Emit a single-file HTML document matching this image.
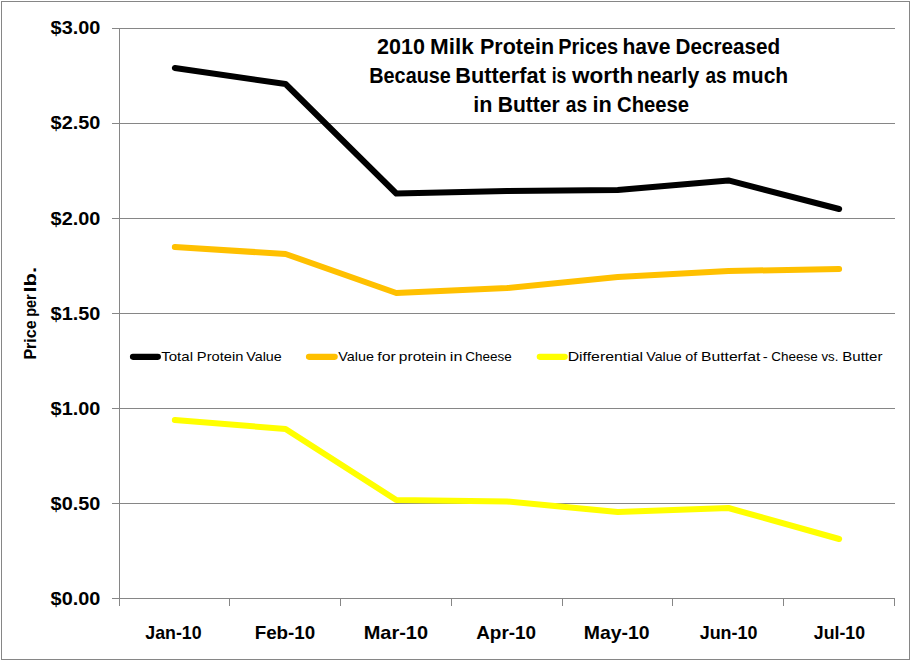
<!DOCTYPE html>
<html>
<head>
<meta charset="utf-8">
<title>2010 Milk Protein Prices</title>
<style>
html,body{margin:0;padding:0;background:#ffffff;}
body{width:912px;height:662px;overflow:hidden;font-family:"Liberation Sans",sans-serif;}
svg{display:block;}
text{font-family:"Liberation Sans",sans-serif;fill:#000;}
.b{font-weight:bold;}
.g{stroke:#868686;stroke-width:1;shape-rendering:crispEdges;fill:none;}
</style>
</head>
<body>
<svg width="912" height="662" viewBox="0 0 912 662">
<rect x="0" y="0" width="912" height="662" fill="#ffffff"/>
<rect class="g" x="1.5" y="1.5" width="908" height="658"/>
<g class="g">
<line x1="112" x2="895" y1="28.5" y2="28.5"/>
<line x1="112" x2="895" y1="123.5" y2="123.5"/>
<line x1="112" x2="895" y1="218.5" y2="218.5"/>
<line x1="112" x2="895" y1="313.5" y2="313.5"/>
<line x1="112" x2="895" y1="408.5" y2="408.5"/>
<line x1="112" x2="895" y1="503.5" y2="503.5"/>
<line x1="112" x2="895" y1="598.5" y2="598.5"/>
<line x1="119.5" x2="119.5" y1="28" y2="606"/>
<line x1="229.5" x2="229.5" y1="598" y2="606"/>
<line x1="340.5" x2="340.5" y1="598" y2="606"/>
<line x1="451.5" x2="451.5" y1="598" y2="606"/>
<line x1="562.5" x2="562.5" y1="598" y2="606"/>
<line x1="672.5" x2="672.5" y1="598" y2="606"/>
<line x1="783.5" x2="783.5" y1="598" y2="606"/>
<line x1="894.5" x2="894.5" y1="598" y2="606"/>
</g>
<g fill="none" stroke-width="6" stroke-linecap="round" stroke-linejoin="round">
<polyline stroke="#ffff00" points="174.86,420 285.57,429 396.29,500 507.0,501.5 617.71,512 728.43,508 839.14,539"/>
<polyline stroke="#ffc000" points="174.86,247 285.57,254 396.29,293 507.0,288 617.71,277 728.43,271 839.14,269"/>
<polyline stroke="#000000" points="174.86,68 285.57,84 396.29,193.5 507.0,191 617.71,190 728.43,180.4 839.14,209"/>
</g>
<g fill="none" stroke-width="6.1" stroke-linecap="round">
<line stroke="#000000" x1="132.95" x2="157.9" y1="356.85" y2="356.85"/>
<line stroke="#ffc000" x1="308.95" x2="334.75" y1="356.85" y2="356.85"/>
<line stroke="#ffff00" x1="539.75" x2="564.75" y1="356.85" y2="356.85"/>
</g>
<text class="b" font-size="16.6" transform="translate(36.2,359) rotate(-90)"><tspan x="-0.60" textLength="39.20" lengthAdjust="spacingAndGlyphs">Price</tspan><tspan x="42.20" textLength="22.40" lengthAdjust="spacingAndGlyphs">per</tspan><tspan x="66.40" textLength="25.80" lengthAdjust="spacingAndGlyphs">lb.</tspan></text>
<text class="b" font-size="21.4" x="376.99" y="53.7" textLength="47.88" lengthAdjust="spacingAndGlyphs">2010</text>
<text class="b" font-size="21.4" x="429.91" y="53.7" textLength="43.74" lengthAdjust="spacingAndGlyphs">Milk</text>
<text class="b" font-size="21.4" x="479.94" y="53.7" textLength="74.12" lengthAdjust="spacingAndGlyphs">Protein</text>
<text class="b" font-size="21.4" x="558.30" y="53.7" textLength="59.92" lengthAdjust="spacingAndGlyphs">Prices</text>
<text class="b" font-size="21.4" x="622.40" y="53.7" textLength="48.07" lengthAdjust="spacingAndGlyphs">have</text>
<text class="b" font-size="21.4" x="675.48" y="53.7" textLength="104.59" lengthAdjust="spacingAndGlyphs">Decreased</text>
<text class="b" font-size="21.4" x="369.30" y="82.5" textLength="81.48" lengthAdjust="spacingAndGlyphs">Because</text>
<text class="b" font-size="21.4" x="455.32" y="82.5" textLength="90.57" lengthAdjust="spacingAndGlyphs">Butterfat</text>
<text class="b" font-size="21.4" x="551.66" y="82.5" textLength="14.72" lengthAdjust="spacingAndGlyphs">is</text>
<text class="b" font-size="21.4" x="572.10" y="82.5" textLength="61.23" lengthAdjust="spacingAndGlyphs">worth</text>
<text class="b" font-size="21.4" x="636.76" y="82.5" textLength="62.60" lengthAdjust="spacingAndGlyphs">nearly</text>
<text class="b" font-size="21.4" x="705.46" y="82.5" textLength="21.16" lengthAdjust="spacingAndGlyphs">as</text>
<text class="b" font-size="21.4" x="732.12" y="82.5" textLength="56.12" lengthAdjust="spacingAndGlyphs">much</text>
<text class="b" font-size="21.4" x="473.29" y="111.6" textLength="19.16" lengthAdjust="spacingAndGlyphs">in</text>
<text class="b" font-size="21.4" x="497.76" y="111.6" textLength="62.04" lengthAdjust="spacingAndGlyphs">Butter</text>
<text class="b" font-size="21.4" x="565.74" y="111.6" textLength="21.34" lengthAdjust="spacingAndGlyphs">as</text>
<text class="b" font-size="21.4" x="592.40" y="111.6" textLength="19.36" lengthAdjust="spacingAndGlyphs">in</text>
<text class="b" font-size="21.4" x="617.09" y="111.6" textLength="72.04" lengthAdjust="spacingAndGlyphs">Cheese</text>
<text class="b" font-size="19" x="145.28" y="639.0" textLength="56.34" lengthAdjust="spacingAndGlyphs">Jan-10</text>
<text class="b" font-size="19" x="254.70" y="639.0" textLength="60.55" lengthAdjust="spacingAndGlyphs">Feb-10</text>
<text class="b" font-size="19" x="363.66" y="639.0" textLength="64.36" lengthAdjust="spacingAndGlyphs">Mar-10</text>
<text class="b" font-size="19" x="476.23" y="639.0" textLength="59.82" lengthAdjust="spacingAndGlyphs">Apr-10</text>
<text class="b" font-size="19" x="583.78" y="639.0" textLength="65.78" lengthAdjust="spacingAndGlyphs">May-10</text>
<text class="b" font-size="19" x="699.68" y="639.0" textLength="57.80" lengthAdjust="spacingAndGlyphs">Jun-10</text>
<text class="b" font-size="19" x="813.86" y="639.0" textLength="51.18" lengthAdjust="spacingAndGlyphs">Jul-10</text>
<text class="b" font-size="19" x="50.60" y="33.7" textLength="49.77" lengthAdjust="spacingAndGlyphs">$3.00</text>
<text class="b" font-size="19" x="50.60" y="128.7" textLength="49.77" lengthAdjust="spacingAndGlyphs">$2.50</text>
<text class="b" font-size="19" x="50.60" y="224.8" textLength="49.77" lengthAdjust="spacingAndGlyphs">$2.00</text>
<text class="b" font-size="19" x="50.60" y="319.8" textLength="49.77" lengthAdjust="spacingAndGlyphs">$1.50</text>
<text class="b" font-size="19" x="50.60" y="414.8" textLength="49.77" lengthAdjust="spacingAndGlyphs">$1.00</text>
<text class="b" font-size="19" x="50.60" y="509.8" textLength="49.77" lengthAdjust="spacingAndGlyphs">$0.50</text>
<text class="b" font-size="19" x="50.60" y="604.8" textLength="49.77" lengthAdjust="spacingAndGlyphs">$0.00</text>
<text font-size="13.6" x="161.18" y="360.8" textLength="31.81" lengthAdjust="spacingAndGlyphs">Total</text>
<text font-size="13.6" x="196.85" y="360.8" textLength="46.49" lengthAdjust="spacingAndGlyphs">Protein</text>
<text font-size="13.6" x="246.20" y="360.8" textLength="35.54" lengthAdjust="spacingAndGlyphs">Value</text>
<text font-size="13.6" x="338.30" y="360.8" textLength="35.69" lengthAdjust="spacingAndGlyphs">Value</text>
<text font-size="13.6" x="377.30" y="360.8" textLength="18.51" lengthAdjust="spacingAndGlyphs">for</text>
<text font-size="13.6" x="398.84" y="360.8" textLength="47.51" lengthAdjust="spacingAndGlyphs">protein</text>
<text font-size="13.6" x="449.88" y="360.8" textLength="12.59" lengthAdjust="spacingAndGlyphs">in</text>
<text font-size="13.6" x="465.19" y="360.8" textLength="46.48" lengthAdjust="spacingAndGlyphs">Cheese</text>
<text font-size="13.6" x="567.68" y="360.8" textLength="75.34" lengthAdjust="spacingAndGlyphs">Differential</text>
<text font-size="13.6" x="646.20" y="360.8" textLength="35.38" lengthAdjust="spacingAndGlyphs">Value</text>
<text font-size="13.6" x="685.22" y="360.8" textLength="11.93" lengthAdjust="spacingAndGlyphs">of</text>
<text font-size="13.6" x="701.00" y="360.8" textLength="59.28" lengthAdjust="spacingAndGlyphs">Butterfat</text>
<text font-size="13.6" x="762.79" y="360.8" textLength="5.00" lengthAdjust="spacingAndGlyphs">-</text>
<text font-size="13.6" x="771.19" y="360.8" textLength="46.55" lengthAdjust="spacingAndGlyphs">Cheese</text>
<text font-size="13.6" x="821.40" y="360.8" textLength="16.92" lengthAdjust="spacingAndGlyphs">vs.</text>
<text font-size="13.6" x="842.29" y="360.8" textLength="40.14" lengthAdjust="spacingAndGlyphs">Butter</text>
</svg>
</body>
</html>
